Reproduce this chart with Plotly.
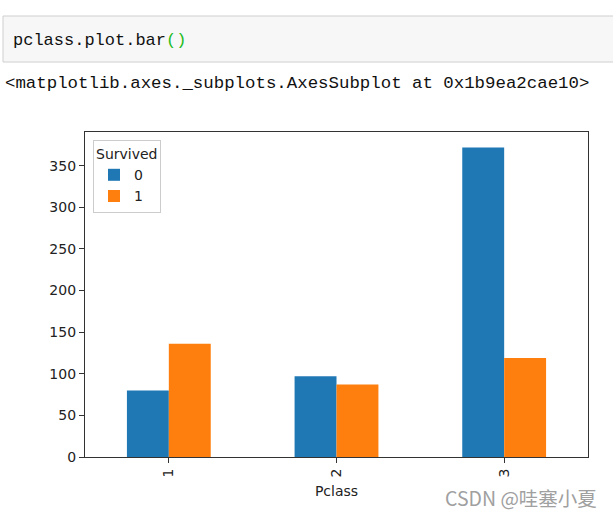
import plotly.graph_objects as go

# Data
pclass = ["1", "2", "3"]
survived_0 = [80, 97, 372]
survived_1 = [136, 87, 119]
series_names = ["0", "1"]
colors = ["#1f77b4", "#ff7f0e"]
y_ticks = [0, 50, 100, 150, 200, 250, 300, 350]

W, H = 613, 516
L, R, T, B = 85, 588, 132, 457  # axes box in pixels


def px(x):
    return (x - L) / (R - L)


def py(y):
    return (B - y) / (B - T)


fig = go.Figure()
for name, vals, col in zip(series_names, [survived_0, survived_1], colors):
    fig.add_trace(go.Bar(x=pclass, y=vals, name=name, marker_color=col,
                         marker_line_width=0))

fig.update_layout(
    width=W, height=H,
    margin=dict(l=L, r=W - R, t=T, b=H - B),
    paper_bgcolor="white", plot_bgcolor="white",
    barmode="group", bargap=0.5, bargroupgap=0,
    font=dict(family="DejaVu Sans", size=14, color="#222"),
    showlegend=True,
    legend=dict(
        title=dict(text="Survived", font=dict(size=14, color="#222")),
        x=px(93), y=py(140), xanchor="left", yanchor="top",
        bordercolor="#cccccc", borderwidth=1, bgcolor="white",
        font=dict(size=14, color="#222"),
        itemwidth=30, tracegroupgap=0,
    ),
)
fig.update_xaxes(
    type="category", range=[-0.5, 2.5],
    showline=True, linecolor="#333", linewidth=1.2, mirror=True,
    ticks="outside", ticklen=5, tickcolor="#333", tickwidth=1.2,
    tickangle=-90, showgrid=False, automargin=False,
    title=dict(text="Pclass", font=dict(size=14, color="#222"), standoff=9),
)
fig.update_yaxes(
    range=[0, 390.6], tickvals=y_ticks,
    showline=True, linecolor="#333", linewidth=1.2, mirror=True,
    ticks="outside", ticklen=5, tickcolor="#333", tickwidth=1.2,
    showgrid=False, zeroline=False, automargin=False,
)

# Notebook code cell
fig.add_shape(type="rect", xref="paper", yref="paper",
              x0=px(3), x1=px(625), y0=py(62), y1=py(16),
              fillcolor="#f7f7f7", line=dict(color="#cfcfcf", width=1),
              layer="below")
fig.add_annotation(xref="paper", yref="paper", x=px(11), y=py(40),
                   xanchor="left", yanchor="middle", showarrow=False,
                   text='pclass.plot.bar<span style="color:#22bb22">()</span>',
                   font=dict(family="Liberation Mono", size=17, color="#111"))
fig.add_annotation(xref="paper", yref="paper", x=px(3), y=py(84),
                   xanchor="left", yanchor="middle", showarrow=False,
                   text="&lt;matplotlib.axes._subplots.AxesSubplot at 0x1b9ea2cae10&gt;",
                   font=dict(family="Liberation Mono", size=17.4, color="#111"))
# Watermark
fig.add_annotation(xref="paper", yref="paper", x=px(599), y=py(497),
                   xanchor="right", yanchor="middle", showarrow=False,
                   text="CSDN @哇塞小夏",
                   font=dict(family="Noto Sans CJK SC", size=19.5, color="#a0a0a0"))

fig.write_html("out.html", config={"displayModeBar": False},
               post_script="document.body.style.margin='0';document.body.style.overflow='hidden';")
